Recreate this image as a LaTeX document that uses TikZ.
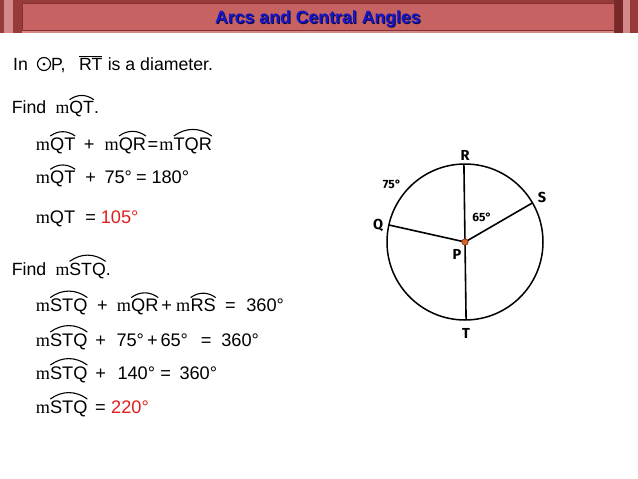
\documentclass[tikz,border=0pt]{standalone}
\usepackage{fontspec}
\setmainfont{Liberation Sans}
\newfontfamily\serifm{Liberation Serif}
\newfontfamily\lblfont{Fira Sans}
\definecolor{barmain}{RGB}{198,98,98}
\definecolor{bardark}{RGB}{150,58,58}
\definecolor{bardeep}{RGB}{118,40,40}
\definecolor{barpink}{RGB}{212,136,136}
\definecolor{barline}{RGB}{135,48,48}
\definecolor{titleblue}{RGB}{22,22,200}
\definecolor{titleshadow}{RGB}{10,10,70}
\definecolor{ansred}{RGB}{225,30,30}
\definecolor{dotfill}{RGB}{215,100,40}
\definecolor{dotline}{RGB}{130,50,15}
\newcommand\ovarc[1]{\tikz[x=1pt,y=1pt,baseline=(arcbox.base)]{\node[inner sep=0pt,outer sep=0pt,anchor=base west,draw=none,fill=none] (arcbox) at (0,0) {#1};\draw[line width=1.1pt,line cap=round] ([xshift=0.4pt,yshift=1.4pt]arcbox.north west) to[out=36,in=144] ([xshift=-0.4pt,yshift=1.4pt]arcbox.north east);}}
\newcommand\ovl[1]{\tikz[x=1pt,y=1pt,baseline=(ovlbox.base)]{\node[inner sep=0pt,outer sep=0pt,anchor=base west,draw=none,fill=none] (ovlbox) at (0,0) {#1};\draw[line width=1.1pt] ([yshift=2.2pt]ovlbox.north west) -- ([yshift=2.2pt]ovlbox.north east);}}
\newcommand\mm{{\serifm m}}
\tikzset{
  txt/.style={anchor=base west, inner sep=0pt, outer sep=0pt, font=\fontsize{17.7}{21}\selectfont},
  eq/.style={anchor=base west, inner sep=0pt, outer sep=0pt, font=\fontsize{18.2}{22}\selectfont},
  op/.style={anchor=base, inner sep=0pt, outer sep=0pt, font=\fontsize{18.2}{22}\selectfont},
  ans/.style={eq, text=ansred},
  lbl/.style={inner sep=0pt, font=\lblfont\bfseries\fontsize{14.5}{16}\selectfont},
  deg/.style={inner sep=0pt, font=\lblfont\bfseries\fontsize{12}{14}\selectfont},
  radius line/.style={line width=1.6pt},
}
\begin{document}
\begin{tikzpicture}[x=1pt,y=-1pt]
\fill[white] (0,0) rectangle (638,479);
\useasboundingbox (0,0) rectangle (638,479);
% title bar
\fill[bardark] (0,0) rectangle (638,33);
\fill[barpink] (0,30.5) rectangle (638,33);
\fill[bardark] (0,0) rectangle (4,33);
\fill[barpink] (4,0) rectangle (13,33);
\fill[bardark] (13,0) rectangle (22,33);
\fill[bardeep] (614,0) rectangle (623,33);
\fill[barpink] (623,0) rectangle (630,33);
\fill[bardark] (630,0) rectangle (638,33);
\fill[barmain, draw=barline, line width=1pt] (22,3) rectangle (614,30.5);
\node[font=\bfseries\fontsize{17.7}{21}\selectfont, text=titleshadow, inner sep=0pt] (titleshadow) at (319,20) {Arcs and Central Angles};
\node[font=\bfseries\fontsize{17.7}{21}\selectfont, text=titleblue, inner sep=0pt] (title) at (318,19) {Arcs and Central Angles};
% line 1
\node[txt] (l1a) at (13.2,70.7) {In};
\node[circle, draw, line width=1.1pt, minimum size=13pt, inner sep=0pt] (odot) at (44,64) {};
\fill (odot.center) circle[radius=1.5];
\node[txt] (l1b) at (51,70.7) {P,};
\node[txt] (l1c) at (78.5,70.7) {\ovl{RT} is a diameter.};
% Find mQT
\node[txt] (f1a) at (11.8,113.3) {Find};
\node[txt] (f1b) at (55.5,113.3) {\mm\ovarc{QT}.};
\node[eq] (a1a) at (35.8,150) {\mm\ovarc{QT}};
\node[op] (a1b) at (89.3,150) {+};
\node[eq] (a1c) at (104.5,150) {\mm\ovarc{QR}};
\node[op] (a1d) at (153,150) {=};
\node[eq] (a1e) at (159.3,150) {\mm\ovarc{TQR}};
\node[eq] (a2a) at (35.8,183.3) {\mm\ovarc{QT}};
\node[op] (a2b) at (90.8,183.3) {+};
\node[eq] (a2c) at (104.5,183.3) {75°};
\node[op] (a2d) at (141.5,183.3) {=};
\node[eq] (a2e) at (151.5,183.3) {180°};
\node[eq] (a3a) at (35.8,223.3) {\mm QT};
\node[op] (a3b) at (90.8,223.3) {=};
\node[ans] (a3c) at (100.8,223.3) {105°};
% Find mSTQ
\node[txt] (f2a) at (11.8,275) {Find};
\node[txt] (f2b) at (55.5,275) {\mm\ovarc{STQ}.};
\node[eq] (b1a) at (35.8,311.5) {\mm\ovarc{STQ}};
\node[op] (b1b) at (102.5,311.5) {+};
\node[eq] (b1c) at (116.8,311.5) {\mm\ovarc{QR}};
\node[op] (b1d) at (166.7,311.5) {+};
\node[eq] (b1e) at (176.2,311.5) {\mm\ovarc{RS}};
\node[op] (b1f) at (230.5,311.5) {=};
\node[eq] (b1g) at (246.3,311.5) {360°};
\node[eq] (b2a) at (35.8,346) {\mm\ovarc{STQ}};
\node[op] (b2b) at (100.8,346) {+};
\node[eq] (b2c) at (116.5,346) {75°};
\node[op] (b2d) at (152.5,346) {+};
\node[eq] (b2e) at (160.5,346) {65°};
\node[op] (b2f) at (206.3,346) {=};
\node[eq] (b2g) at (221.3,346) {360°};
\node[eq] (b3a) at (35.8,379) {\mm\ovarc{STQ}};
\node[op] (b3b) at (100.8,379) {+};
\node[eq] (b3c) at (117.5,379) {140°};
\node[op] (b3d) at (165.8,379) {=};
\node[eq] (b3e) at (179.5,379) {360°};
\node[eq] (b4a) at (35.8,413) {\mm\ovarc{STQ}};
\node[op] (b4b) at (100.5,413) {=};
\node[ans] (b4c) at (111.2,413) {220°};
% circle
\coordinate (P) at (465,242);
\draw[line width=1.5pt] (P) circle[radius=78];
\path (P) ++(-90.8:78) coordinate (R);
\path (P) ++(89.2:78) coordinate (T);
\path (P) ++(-167.4:78) coordinate (Q);
\path (P) ++(-30.1:78) coordinate (S);
\draw[radius line] (P) -- (R);
\draw[radius line] (P) -- (T);
\draw[radius line] (P) -- (Q);
\draw[radius line] (P) -- (S);
\node[circle, fill=dotfill, draw=dotline, line width=0.6pt, minimum size=6.5pt, inner sep=0pt] (Pdot) at (P) {};
\node[lbl] (Rl) at (465,155) {R};
\node[lbl] (Sl) at (542,197) {S};
\node[lbl] (Ql) at (378,225) {Q};
\node[lbl] (Pl) at (457,254) {P};
\node[lbl] (Tl) at (466,333) {T};
\node[deg] (d75) at (392,184) {75°};
\node[deg] (d65) at (482,217) {65°};
\end{tikzpicture}
\end{document}
